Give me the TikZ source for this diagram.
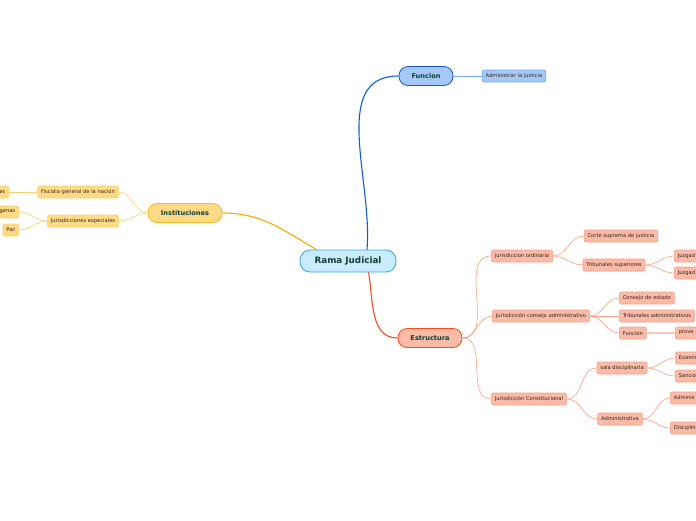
\documentclass[tikz,border=0pt]{standalone}
\usepackage{fontspec}
\setmainfont{DejaVu Sans}
\usepackage{tikz}
\usetikzlibrary{positioning}
\usepackage{xcolor}
\definecolor{darkteal}{RGB}{16,62,50}
\definecolor{textgrey}{RGB}{50,35,30}
\definecolor{rootfill}{RGB}{200,236,252}
\definecolor{rootdraw}{RGB}{66,160,222}
\definecolor{bluefill}{RGB}{164,201,247}
\definecolor{bluedraw}{RGB}{25,86,199}
\definecolor{blueline}{RGB}{13,94,209}
\definecolor{bluesub}{RGB}{120,165,240}
\definecolor{yellowfill}{RGB}{254,218,134}
\definecolor{yellowdraw}{RGB}{247,186,36}
\definecolor{yellowline}{RGB}{247,170,0}
\definecolor{yellowsub}{RGB}{252,208,112}
\definecolor{salmonfill}{RGB}{249,187,168}
\definecolor{salmondraw}{RGB}{240,80,30}
\definecolor{salmonsub}{RGB}{246,160,135}

\begin{document}
\begin{tikzpicture}[x=1pt, y=-1pt,
    every node/.style={font=\fontsize{5.2}{6}\selectfont, text=textgrey, inner xsep=3.5pt, inner ysep=0pt, minimum height=12pt, line width=0.6pt},
    rootNode/.style={rectangle, draw=rootdraw, fill=rootfill, rounded corners=10pt, minimum height=22pt, minimum width=96pt, font=\fontsize{8.8}{10}\selectfont\bfseries, text=darkteal, line width=0.8pt},
    mainNode/.style={rectangle, rounded corners=9pt, minimum height=19pt, font=\fontsize{6.6}{8}\selectfont\bfseries, text=darkteal, line width=0.8pt},
    blueMain/.style={mainNode, draw=bluedraw, fill=bluefill},
    yellowMain/.style={mainNode, draw=yellowdraw, fill=yellowfill},
    salmonMain/.style={mainNode, draw=salmondraw, fill=salmonfill},
    blueSub/.style={rectangle, rounded corners=2pt, draw=bluesub, fill=bluefill},
    yellowSub/.style={rectangle, rounded corners=2pt, draw=yellowsub, fill=yellowfill},
    salmonSub/.style={rectangle, rounded corners=2pt, draw=salmonsub, fill=salmonfill},
    cutRight/.style={anchor=west, text width=34pt, align=left},
    mainLine/.style={line width=1.1pt},
    subLine/.style={line width=0.6pt}
]
    \clip (0,0) rectangle (696,520);
    \fill[white] (0,0) rectangle (696,520);

    \node [rootNode] (rama) at (348,261) {Rama Judicial};

    % Funcion
    \node [blueMain, minimum width=54pt] (funcion) at (426,76) {Funcion};
    \node [blueSub] (adminJusticia) at (514,76) {Administrar la justicia};

    % Instituciones
    \node [yellowMain, minimum width=74pt] (instituciones) at (185,213) {Instituciones};
    \node [yellowSub] (fiscalia) at (78,192) {Fiscalia general de la nación};
    \node [yellowSub] (jurEspeciales) at (83,221) {Jurisdicciones especiales};
    \node [yellowSub, anchor=east] (fiscales) at (9,192) {es};
    \node [yellowSub, anchor=east] (indigenas) at (19,212) {genas};
    \node [yellowSub, anchor=east] (paz) at (19,230) {Paz};

    % Estructura
    \node [salmonMain, minimum width=64pt] (estructura) at (430,338) {Estructura};
    \node [salmonSub] (jurOrdinaria) at (522,256) {jurisdiccion ordinaria};
    \node [salmonSub] (corte) at (621,236) {Corte suprema de justicia};
    \node [salmonSub] (tribSup) at (614,265) {Tribunales superiores};
    \node [salmonSub, cutRight] (juzgadUno) at (674,256) {Juzgad};
    \node [salmonSub, cutRight] (juzgadDos) at (674,273) {Juzgad};

    \node [salmonSub] (jurConsejo) at (541,316) {Jurisdicción consejo administrativo};
    \node [salmonSub, anchor=west] (consejo) at (619,298) {Consejo de estado};
    \node [salmonSub, anchor=west] (tribAdmin) at (619,316) {Tribunales administrativos};
    \node [salmonSub, anchor=west] (funcionSub) at (619,333) {Función};
    \node [salmonSub, cutRight] (prove) at (675,333) {prove};

    \node [salmonSub] (jurConst) at (529,399) {Jurisdicción Constitucional};
    \node [salmonSub] (salaDisc) at (622,368) {sala disciplinaria};
    \node [salmonSub] (administrativa) at (620,419) {Administrativa};
    \node [salmonSub, cutRight] (examin) at (675,358) {Examin};
    \node [salmonSub, cutRight] (sancio) at (675,376) {Sancio};
    \node [salmonSub, cutRight] (adminis) at (670,398) {Adminis};
    \node [salmonSub, cutRight] (disciplin) at (670,428) {Disciplin};

    % main branches
    \draw [mainLine, blueline] (rama.31) to[out=85, in=180] (funcion.west);
    \draw [mainLine, yellowline] (rama.160) to[out=150, in=0] (instituciones.east);
    \draw [mainLine, salmondraw] (rama.-29) to[out=-80, in=180] (estructura.west);

    % sub branches
    \draw [subLine, bluesub] (funcion.east) -- (adminJusticia.west);

    \draw [subLine, yellowsub] (instituciones.west) to[out=180, in=0] (fiscalia.east);
    \draw [subLine, yellowsub] (instituciones.west) to[out=180, in=0] (jurEspeciales.east);
    \draw [subLine, yellowsub] (fiscalia.west) -- (fiscales.east);
    \draw [subLine, yellowsub] (jurEspeciales.west) to[out=180, in=0] (indigenas.east);
    \draw [subLine, yellowsub] (jurEspeciales.west) to[out=180, in=0] (paz.east);

    \draw [subLine, salmonsub] (estructura.east) to[out=0, in=180] (jurOrdinaria.west);
    \draw [subLine, salmonsub] (estructura.east) to[out=0, in=180] (jurConsejo.west);
    \draw [subLine, salmonsub] (estructura.east) to[out=0, in=180] (jurConst.west);

    \draw [subLine, salmonsub] (jurOrdinaria.east) to[out=0, in=180] (corte.west);
    \draw [subLine, salmonsub] (jurOrdinaria.east) to[out=0, in=180] (tribSup.west);
    \draw [subLine, salmonsub] (tribSup.east) to[out=0, in=180] (juzgadUno.west);
    \draw [subLine, salmonsub] (tribSup.east) to[out=0, in=180] (juzgadDos.west);

    \draw [subLine, salmonsub] (jurConsejo.east) to[out=0, in=180] (consejo.west);
    \draw [subLine, salmonsub] (jurConsejo.east) -- (tribAdmin.west);
    \draw [subLine, salmonsub] (jurConsejo.east) to[out=0, in=180] (funcionSub.west);
    \draw [subLine, salmonsub, line width=1.4pt, opacity=0.6] (funcionSub.east) -- (prove.west);

    \draw [subLine, salmonsub] (jurConst.east) to[out=0, in=180] (salaDisc.west);
    \draw [subLine, salmonsub] (jurConst.east) to[out=0, in=180] (administrativa.west);
    \draw [subLine, salmonsub] (salaDisc.east) to[out=0, in=180] (examin.west);
    \draw [subLine, salmonsub] (salaDisc.east) to[out=0, in=180] (sancio.west);
    \draw [subLine, salmonsub] (administrativa.east) to[out=0, in=180] (adminis.west);
    \draw [subLine, salmonsub] (administrativa.east) to[out=0, in=180] (disciplin.west);
\end{tikzpicture}
\end{document}
